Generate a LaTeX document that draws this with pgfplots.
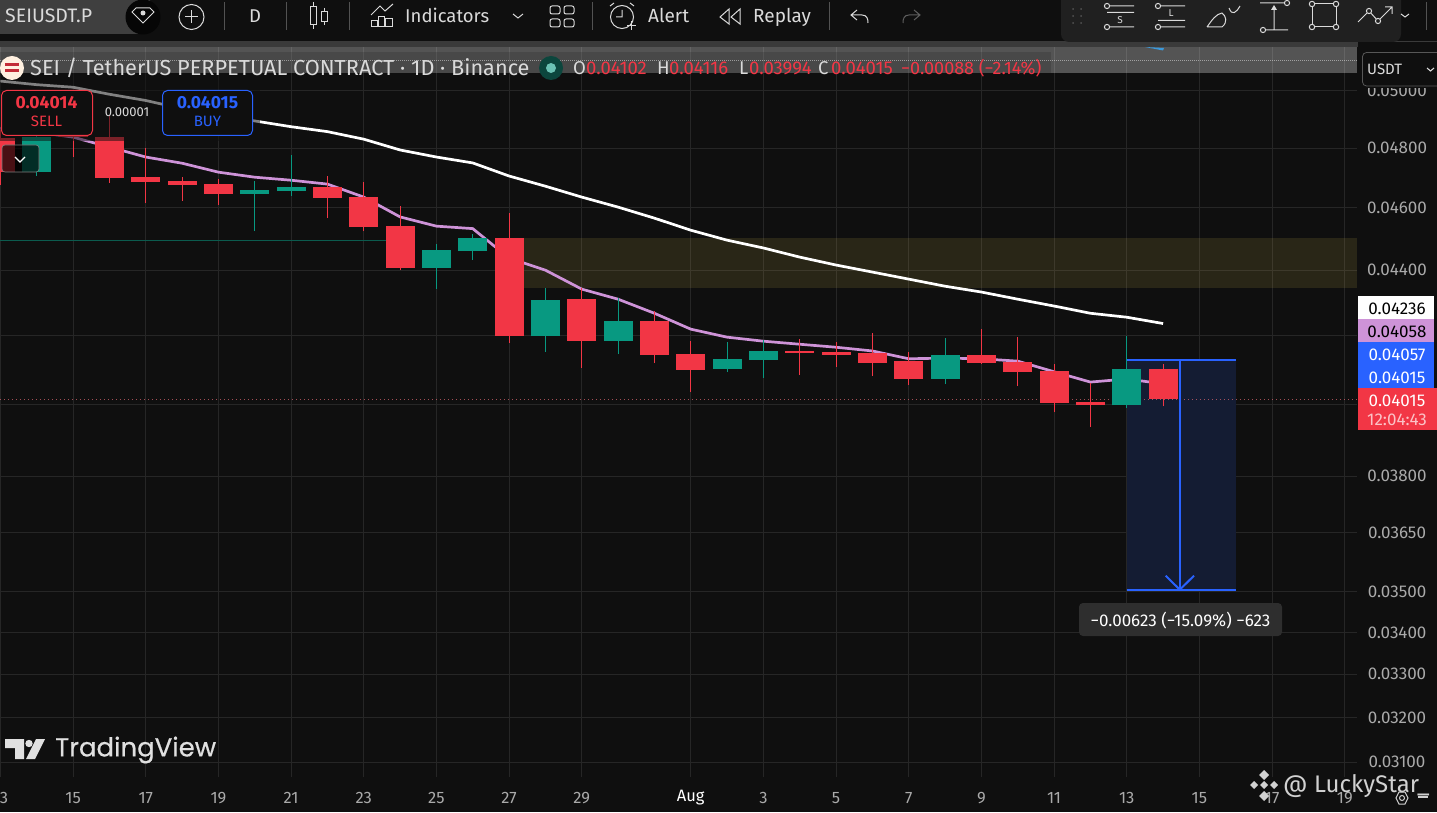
\documentclass[border=0pt]{standalone}
\usepackage{fontspec}
\setmainfont{Fira Sans}
\newfontfamily\tvfont{Poppins}[FakeBold=0.5]
\usepackage{pgfplots}
\pgfplotsset{compat=1.18}
\definecolor{bg}{RGB}{15,15,15}
\definecolor{gridc}{RGB}{38,38,38}
\definecolor{up}{RGB}{8,153,129}
\definecolor{dn}{RGB}{242,54,69}
\definecolor{blu}{RGB}{41,98,255}
\definecolor{pur}{RGB}{206,147,216}
\definecolor{lab}{RGB}{170,170,170}
\definecolor{ui}{RGB}{218,218,218}
\definecolor{zone}{RGB}{195,170,75}
\definecolor{meas}{RGB}{20,28,51}
\newcommand{\fs}[1]{\fontsize{#1}{#1}\selectfont}
\newcommand{\candle}[6]{%
 \addplot[#6, line width=1pt, forget plot] coordinates {(#1,#4)(#1,#3)};
 \addplot[#6, line width=29pt, line cap=butt, forget plot] coordinates {(#1,#2)(#1,#5)};
}
\tikzset{px/.style={x=1pt,y=-1pt,shift={(0pt,777pt)}}}
\begin{document}
\begin{tikzpicture}
\useasboundingbox (0,-35pt) rectangle (1437pt,777pt);
\clip (0,-35pt) rectangle (1437pt,777pt);
\fill[bg] (0,-35pt) rectangle (1437pt,777pt);
\begin{axis}[
  at={(0,0)}, anchor=south west, scale only axis, width=1357pt, height=730pt,
  xmin=-0.011, xmax=37.337, ymode=log, ymin=0.030671, ymax=0.051573,
  axis line style={draw=none}, tick style={draw=none},
  grid=major, grid style={gridc, line width=0.8pt}, yminorticks=false,
  xtick={0,2,4,6,8,10,12,14,16,19,21,23,25,27,29,31,33,35,37},
  xticklabels={13,15,17,19,21,23,25,27,29,{\textcolor{white}{Aug}},3,5,7,9,11,13,15,17,19},
  ytick={0.031,0.032,0.033,0.034,0.035,0.0365,0.038,0.04,0.042,0.044,0.046,0.048,0.05},
  yticklabels={0.03100,0.03200,0.03300,0.03400,0.03500,0.03650,0.03800,{},{},0.04400,0.04600,0.04800,0.05000},
  yticklabel pos=right,
  every x tick label/.append style={anchor=center, yshift=-21pt, font=\fs{16.5}, text=lab},
  every y tick label/.append style={anchor=center, xshift=40pt, font=\fs{17}, text=lab},
]
% supply/demand zone
\addplot[fill=zone, fill opacity=0.15, draw=none, forget plot] coordinates {(14,0.04502)(37.337,0.04502)(37.337,0.04344)(14,0.04344)} -- cycle;
% old level
\addplot[color=up!55!bg, line width=0.9pt, forget plot] coordinates {(-0.011,0.04494)(11,0.04494)};
% measure box
\addplot[fill=meas, draw=none, forget plot] coordinates {(31,0.04128)(34,0.04128)(34,0.03505)(31,0.03505)} -- cycle;
% last price line
\addplot[dn!60!lab, line width=0.7pt, opacity=0.75, dash pattern=on 1pt off 3pt, forget plot] coordinates {(-0.011,0.040135)(37.337,0.040135)};
% slow moving average
\addplot[white, line width=2.7pt, forget plot] coordinates {
(0,0.05034)(1,0.05021)(2,0.05012)(3,0.04987)(4,0.04965)(5,0.04936)(6,0.04914)(7,0.04893)(8,0.04873)(9,0.04856)
(10,0.04830)(11,0.04793)(12,0.04769)(13,0.04749)(14,0.04705)(15,0.04671)(16,0.04635)(17,0.04602)(18,0.04566)(19,0.04527)
(20,0.04495)(21,0.04470)(22,0.04441)(23,0.04416)(24,0.04394)(25,0.04372)(26,0.04350)(27,0.04332)(28,0.04310)(29,0.04289)
(30,0.04267)(31,0.04255)(32,0.04236)};
% fast moving average
\addplot[pur, line width=2.7pt, forget plot] coordinates {
(0,0.04868)(1,0.04854)(2,0.04837)(3,0.04803)(4,0.04769)(5,0.04748)(6,0.04718)(7,0.04701)(8,0.04691)(9,0.04678)
(10,0.04635)(11,0.04570)(12,0.04540)(13,0.04532)(14,0.04438)(15,0.04400)(16,0.04341)(17,0.04310)(18,0.04267)(19,0.04219)
(20,0.04195)(21,0.04183)(22,0.04174)(23,0.04165)(24,0.04154)(25,0.04131)(26,0.04133)(27,0.04131)(28,0.04124)(29,0.04093)
(30,0.04063)(31,0.04072)(32,0.04058)};
% candles: day, open, high, low, close, colour
\candle{0}{0.04834}{0.04861}{0.04675}{0.04718}{dn}
\candle{1}{0.04718}{0.04861}{0.04706}{0.04837}{up}
\candle{2}{0.04861}{0.04896}{0.04769}{0.04837}{dn}
\candle{3}{0.04837}{0.04910}{0.04682}{0.04699}{dn}
\candle{4}{0.04701}{0.04800}{0.04615}{0.04685}{dn}
\candle{5}{0.04688}{0.04701}{0.04623}{0.04675}{dn}
\candle{6}{0.04678}{0.04695}{0.04609}{0.04645}{dn}
\candle{7}{0.04645}{0.04688}{0.04524}{0.04658}{up}
\candle{8}{0.04655}{0.04776}{0.04638}{0.04668}{up}
\candle{9}{0.04668}{0.04705}{0.04566}{0.04632}{dn}
\candle{10}{0.04635}{0.04685}{0.04524}{0.04537}{dn}
\candle{11}{0.04540}{0.04605}{0.04400}{0.04407}{dn}
\candle{12}{0.04407}{0.04482}{0.04341}{0.04463}{up}
\candle{13}{0.04460}{0.04514}{0.04432}{0.04502}{up}
\candle{14}{0.04502}{0.04582}{0.04177}{0.04198}{dn}
\candle{15}{0.04198}{0.04344}{0.04151}{0.04307}{up}
\candle{16}{0.04310}{0.04344}{0.04104}{0.04183}{dn}
\candle{17}{0.04183}{0.04313}{0.04145}{0.04243}{up}
\candle{18}{0.04243}{0.04274}{0.04118}{0.04142}{dn}
\candle{19}{0.04145}{0.04183}{0.04034}{0.04098}{dn}
\candle{20}{0.04101}{0.04180}{0.04092}{0.04130}{up}
\candle{21}{0.04127}{0.04186}{0.04075}{0.04154}{up}
\candle{22}{0.04154}{0.04189}{0.04083}{0.04148}{dn}
\candle{23}{0.04151}{0.04180}{0.04107}{0.04142}{dn}
\candle{24}{0.04148}{0.04207}{0.04080}{0.04118}{dn}
\candle{25}{0.04124}{0.04151}{0.04054}{0.04072}{dn}
\candle{26}{0.04072}{0.04192}{0.04057}{0.04142}{up}
\candle{27}{0.04142}{0.04219}{0.04115}{0.04118}{dn}
\candle{28}{0.04121}{0.04195}{0.04051}{0.04092}{dn}
\candle{29}{0.04095}{0.04115}{0.03977}{0.04003}{dn}
\candle{30}{0.04006}{0.04060}{0.03935}{0.03997}{dn}
\candle{31}{0.03997}{0.04198}{0.03988}{0.04101}{up}
\candle{32}{0.04102}{0.04116}{0.03994}{0.04015}{dn}
% measure lines
\addplot[blu, line width=2pt, forget plot] coordinates {(31,0.04128)(34,0.04128)};
\addplot[blu, line width=2pt, forget plot] coordinates {(31,0.03505)(34,0.03505)};
\addplot[blu, line width=2pt, forget plot] coordinates {(32.46,0.04128)(32.46,0.03505)};
\addplot[blu, line width=2pt, forget plot] coordinates {(32.07,0.03540)(32.46,0.03505)(32.85,0.03540)};
\end{axis}
\begin{scope}[px]
% top band
\fill[white, opacity=0.29] (0,47) rectangle (1357,73);
\fill[black, opacity=0.14] (0,52) rectangle (1051,73);
\draw[white, opacity=0.45, line width=0.6pt, dash pattern=on 1pt off 1pt] (0,60.5) -- (1357,60.5);
\fill[bg] (0,0) rectangle (1437,41);
\fill[white!18!bg] (0,41) rectangle (1437,47);
\fill[cyan!70!blue!80!white] (1145,47) -- (1164,48) -- (1163,50.5) -- cycle;
% dim overlay beneath order widget
\fill[bg, opacity=0.52] (0,73) rectangle (260,141);
% order widget
\draw[dn, line width=1pt, fill=bg, rounded corners=5pt] (1.5,90.5) rectangle (92.5,135.5);
\draw[blu, line width=1pt, fill=bg, rounded corners=5pt] (162.5,90.5) rectangle (252.5,135.5);
\node[text=dn, font=\fs{17.5}\bfseries] at (46.5,102.5) {0.04014};
\node[text=dn, font=\fs{15}] at (46.5,121.5) {SELL};
\node[text=blu, font=\fs{17.5}\bfseries] at (207.5,102.5) {0.04015};
\node[text=blu, font=\fs{15}] at (207.5,121.5) {BUY};
\node[text=ui, font=\fs{13}] at (127,112.5) {0.00001};
\fill[black, opacity=0.7, rounded corners=3pt] (2,145) rectangle (39,172);
\draw[gray, line width=0.6pt, rounded corners=3pt] (2,145) rectangle (39,172);
\draw[white, line width=1.3pt] (15,157) -- (20,162) -- (25,157);
% title row
\fill[white!88!orange] (12,68) circle (12);
\fill[dn!80!black] (5,63) rectangle (19,66); \fill[dn!80!black] (5,69) rectangle (19,72);
\node[anchor=west, inner sep=0, text=ui, font=\fs{21.7}] at (30,68) {SEI / TetherUS PERPETUAL CONTRACT · 1D · Binance};
\fill[up!40!bg] (551,68) circle (12);
\fill[up!60!white] (551,68) circle (5);
\foreach \xa/\la/\xb/\vb in {573/O/586/0.04102,657/H/669/0.04116,739/L/749/0.03994,818/C/831/0.04015}{
  \node[anchor=west, inner sep=0, text=ui, font=\fs{18.5}] at (\xa,68) {\la};
  \node[anchor=west, inner sep=0, text=dn, font=\fs{18.5}] at (\xb,68) {\vb};
}
\node[anchor=west, inner sep=0, text=dn, font=\fs{18}] at (901,68) {−0.00088 (−2.14\%)};
% price tags
\fill[bg] (1357,290) rectangle (1437,432);
\fill[white] (1358,296) rectangle (1434,319);
\fill[pur] (1358,319) rectangle (1434,342);
\fill[blu] (1358,342) rectangle (1434,388);
\fill[dn] (1358,388) rectangle (1437,430);
\node[text=black, font=\fs{17}] at (1397,308.5) {0.04236};
\node[text=black, font=\fs{17}] at (1397,332) {0.04058};
\node[text=white, font=\fs{17}] at (1397,354.5) {0.04057};
\node[text=white, font=\fs{17}] at (1397,377.5) {0.04015};
\node[text=white, font=\fs{17}] at (1397,400.5) {0.04015};
\node[text=white!70!dn, font=\fs{17}] at (1397,420) {12:04:43};
% USDT box
\fill[bg] (1358,42) rectangle (1437,88.5);
\draw[white!30!bg, line width=0.8pt, rounded corners=4pt, fill=bg] (1362.5,52.5) rectangle (1445,86);
\node[anchor=west, inner sep=0, text=ui, font=\fs{15}] at (1367,69) {USDT};
\draw[ui, line width=1.1pt] (1427,68) -- (1430.5,71) -- (1434,68);
% measure label
\fill[white!13!bg, rounded corners=4pt] (1079,603) rectangle (1282,636);
\node[text=white, font=\fs{17}] at (1180.5,620.5) {−0.00623 (−15.09\%) −623};
% TradingView logo
\fill[white!88!black] (5,739) -- (24,739) -- (24,759) -- (15,759) -- (15,748) -- (5,748) -- cycle;
\fill[white!88!black] (29,743.5) circle (3.7);
\fill[white!88!black] (36,739) -- (45,739) -- (35,759) -- (26,759) -- cycle;
\node[anchor=west, inner sep=0, text=white!88!black, font=\tvfont\fs{26}] at (55,750) {TradingView};
% watermark
\foreach \cx/\cy/\r in {1264/775/5,1254/785/4,1274/785/4,1264/785/4,1264/796/5}{
  \fill[white!82!black] (\cx-\r,\cy) -- (\cx,\cy-\r) -- (\cx+\r,\cy) -- (\cx,\cy+\r) -- cycle;}
\node[anchor=west, inner sep=0, text=white!82!black, font=\fs{24}] at (1283,786) {@ LuckyStar\_};
\draw[white!82!black, line width=1pt] (1396,798) -- (1399,792) -- (1405,792) -- (1408,798) -- (1405,804) -- (1399,804) -- cycle;
\draw[white!82!black, line width=1pt] (1402,798) circle (2.5);
\draw[white!82!black, line width=1.2pt] (1418,797) -- (1428,797);
% toolbar
\fill[white!20!bg, rounded corners=8pt] (-12,-12) rectangle (150,34);
\node[anchor=base west, inner sep=0, text=ui, font=\fs{19.5}] at (5,23) {SEIUSDT.P};
\fill[black!60!bg] (143,17) circle (17.5);
\draw[ui, line width=1pt] (132,12) -- (136,8) -- (150,8) -- (154,12) -- (143,23) -- cycle;
\fill[ui] (143,13) circle (2.5);
\draw[ui, line width=1pt] (191.5,17) circle (12.5);
\draw[ui, line width=1pt] (185,17) -- (198,17) (191.5,10.5) -- (191.5,23.5);
\foreach \s in {224,286,349,592,829}{\draw[white!28!bg, line width=1pt] (\s,2) -- (\s,30);}
\node[anchor=base, inner sep=0, text=ui, font=\fs{18.5}] at (255,23) {D};
\draw[ui, line width=1pt] (310.5,7) rectangle (316.5,25) (313.5,2) -- (313.5,7) (313.5,25) -- (313.5,29);
\draw[ui, line width=1pt] (321,12) rectangle (327,22) (324,8) -- (324,12) (324,22) -- (324,25);
% indicators icon
\draw[ui, line width=1pt] (371,27) rectangle (377,21) (378,27) rectangle (384,17) (385,27) rectangle (392,19);
\draw[ui, line width=1pt] (371,15) -- (380,6) -- (385,11) -- (393,4);
\node[anchor=base west, inner sep=0, text=ui, font=\fs{18.5}] at (405,23) {Indicators};
\draw[ui, line width=1pt] (513,14) -- (518,18) -- (523,14);
\foreach \a/\b in {550/6,564/6,550/19,564/19}{\draw[ui, line width=1pt, rounded corners=2pt] (\a,\b) rectangle ++(10,8);}
\draw[ui, line width=1pt] (622,17) circle (11.5) (622,10) -- (622,17) -- (616,17);
\draw[ui, line width=1pt] (610,6) -- (614,3) (634,6) -- (630,3);
\draw[ui, line width=1pt] (631,21) -- (631,30) (627,25.5) -- (636,25.5);
\node[anchor=base west, inner sep=0, text=ui, font=\fs{19}] at (648,23) {Alert};
\draw[ui, line width=1pt] (729,9) -- (720,17) -- (729,24) -- cycle (740,9) -- (731,17) -- (740,24) -- cycle;
\node[anchor=base west, inner sep=0, text=ui, font=\fs{19}] at (753,23) {Replay};
\draw[ui, line width=1pt] (857,10) -- (851,15) -- (857,20) (851,15) -- (862,15) .. controls (867,15) and (868,19) .. (868,23);
\draw[gray!70!bg, line width=1pt] (914,10) -- (920,15) -- (914,20) (920,15) -- (909,15) .. controls (904,15) and (903,19) .. (903,23);
% drawing toolbar
\fill[white!7!bg, rounded corners=8pt] (1061,-10) rectangle (1401,42);
\foreach \a/\b in {1073/9,1081/9,1073/16,1081/16,1073/23,1081/23}{\fill[gray!60!bg] (\a,\b) circle (1);}
\draw[ui, line width=1pt] (1107,6) circle (2.6) (1110,6) -- (1134,6) (1107,27) circle (2.6) (1110,27) -- (1134,27) (1107,12.5) -- (1134,12.5);
\node[text=ui, font=\fs{10}] at (1120,20) {S};
\draw[ui, line width=1pt] (1158,6) circle (2.6) (1161,6) -- (1185,6) (1158,27) circle (2.6) (1161,27) -- (1185,27) (1158,20.5) -- (1185,20.5);
\node[text=ui, font=\fs{10}] at (1171,13) {L};
\draw[ui, line width=1pt] (1207,27) -- (1222,27) .. controls (1228,22) and (1226,16) .. (1222,13) .. controls (1216,14) and (1212,20) .. (1207,27);
\draw[ui, line width=1pt] (1229,8) .. controls (1232,16) and (1236,13) .. (1240,6);
\draw[ui, line width=1pt] (1260,3) -- (1284,3) (1287,3) circle (2.6) (1263,30) circle (2.6) (1266,30) -- (1288,30) (1274,30) -- (1274,7);
\fill[ui] (1271,10) -- (1274,5) -- (1277,10) -- cycle;
\draw[ui, line width=1pt] (1312,4) rectangle (1336,27);
\foreach \a/\b in {1312/4,1336/4,1312/27,1336/27}{\draw[ui, line width=1pt, fill=white!7!bg] (\a,\b) circle (2.7);}
\draw[ui, line width=1pt] (1358,22) -- (1369,11) -- (1378,21) -- (1392,7) (1385,7) -- (1392,7) -- (1392,14);
\draw[ui, line width=1pt, fill=white!7!bg] (1369,11) circle (2.6) (1378,21) circle (2.6);
\draw[ui, line width=1pt] (1401,14) -- (1405,17) -- (1409,14);
\draw[white!28!bg, line width=1pt] (1426,2) -- (1426,30);
\end{scope}
\end{tikzpicture}
\end{document}
